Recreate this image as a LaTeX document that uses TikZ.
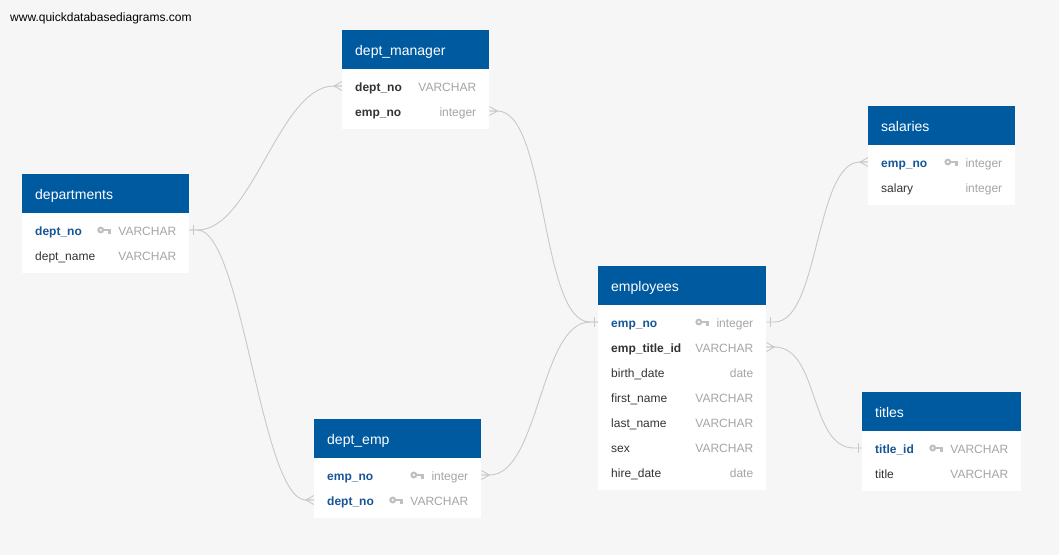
\documentclass[tikz,border=0pt]{standalone}
\usepackage{fontspec}
\setmainfont{Liberation Sans}
\usetikzlibrary{positioning,calc}

\definecolor{canvas}{RGB}{246,246,246}
\definecolor{hdrblue}{RGB}{0,90,160}
\definecolor{pkblue}{RGB}{22,86,150}
\definecolor{coldark}{RGB}{51,51,51}
\definecolor{typegrey}{RGB}{165,165,165}
\definecolor{keygrey}{RGB}{192,192,192}
\definecolor{linkgrey}{RGB}{200,200,200}

\begin{document}
\begin{tikzpicture}[x=1pt, y=-1pt,
    tblbody/.style={fill=white, draw=none, inner sep=0pt, anchor=north west},
    tblhead/.style={fill=hdrblue, draw=none, inner sep=0pt, anchor=north west,
      minimum height=39pt},
    tbltitle/.style={text=white, inner sep=0pt, anchor=base west,
      font=\fontsize{14}{16}\selectfont},
    colname/.style={inner sep=0pt, anchor=base west,
      font=\fontsize{12}{14}\fontseries{#1}\selectfont},
    coltype/.style={inner sep=0pt, anchor=base east, text=typegrey,
      font=\fontsize{12}{14}\selectfont},
    link/.style={draw=linkgrey, line width=0.9pt},
    pkkey/.pic={
      \fill[keygrey] (0,0) circle (3.5);
      \fill[white] (0,0) circle (1.2);
      \fill[keygrey] (2.5,-1.3) rectangle (10.5,1.3);
      \fill[keygrey] (7.5,1.3) rectangle (9.8,3.6);
    },
    crowfoot/.pic={\draw[link] (0,-4.5) -- (8,0) -- (0,4.5) (0,0) -- (8,0);},
    onetick/.pic={\draw[link] (4,-5) -- (4,5);}]

  \useasboundingbox (0,0) rectangle (1059,555);
  \fill[canvas] (0,0) rectangle (1059,555);

  \node[inner sep=0pt, anchor=base west, font=\fontsize{12}{14}\selectfont] (site)
    at (10,21) {www.quickdatabasediagrams.com};

  % departments
  \node[tblbody, minimum width=167pt, minimum height=99pt] (departments) at (22,174) {};
  \node[tblhead, minimum width=167pt] at (departments.north west) {};
  \node[tbltitle] at ($(departments.north west)+(13,25.5)$) {departments};
  \foreach \nm/\tp/\cl/\sr [count=\i] in {dept\_no/VARCHAR/pkblue/b,
      dept\_name/VARCHAR/coldark/m} {
    \coordinate (departments-\i-l) at ($(departments.north west)+(0,{31+25*\i})$);
    \coordinate (departments-\i-r) at ($(departments.north east)+(0,{31+25*\i})$);
    \node[colname=\sr, text=\cl] (departments-\i-n) at ($(departments-\i-l)+(13,5.2)$) {\nm};
    \node[coltype] (departments-\i-t) at ($(departments-\i-r)+(-13,5.2)$) {\tp};
  }

  % dept_manager
  \node[tblbody, minimum width=147pt, minimum height=99pt] (deptmanager) at (342,30) {};
  \node[tblhead, minimum width=147pt] at (deptmanager.north west) {};
  \node[tbltitle] at ($(deptmanager.north west)+(13,25.5)$) {dept\_manager};
  \foreach \nm/\tp/\cl/\sr [count=\i] in {dept\_no/VARCHAR/coldark/b,
      emp\_no/integer/coldark/b} {
    \coordinate (deptmanager-\i-l) at ($(deptmanager.north west)+(0,{31+25*\i})$);
    \coordinate (deptmanager-\i-r) at ($(deptmanager.north east)+(0,{31+25*\i})$);
    \node[colname=\sr, text=\cl] (deptmanager-\i-n) at ($(deptmanager-\i-l)+(13,5.2)$) {\nm};
    \node[coltype] (deptmanager-\i-t) at ($(deptmanager-\i-r)+(-13,5.2)$) {\tp};
  }

  % salaries
  \node[tblbody, minimum width=147pt, minimum height=99pt] (salaries) at (868,106) {};
  \node[tblhead, minimum width=147pt] at (salaries.north west) {};
  \node[tbltitle] at ($(salaries.north west)+(13,25.5)$) {salaries};
  \foreach \nm/\tp/\cl/\sr [count=\i] in {emp\_no/integer/pkblue/b,
      salary/integer/coldark/m} {
    \coordinate (salaries-\i-l) at ($(salaries.north west)+(0,{31+25*\i})$);
    \coordinate (salaries-\i-r) at ($(salaries.north east)+(0,{31+25*\i})$);
    \node[colname=\sr, text=\cl] (salaries-\i-n) at ($(salaries-\i-l)+(13,5.2)$) {\nm};
    \node[coltype] (salaries-\i-t) at ($(salaries-\i-r)+(-13,5.2)$) {\tp};
  }

  % employees
  \node[tblbody, minimum width=168pt, minimum height=224pt] (employees) at (598,266) {};
  \node[tblhead, minimum width=168pt] at (employees.north west) {};
  \node[tbltitle] at ($(employees.north west)+(13,25.5)$) {employees};
  \foreach \nm/\tp/\cl/\sr [count=\i] in {emp\_no/integer/pkblue/b,
      emp\_title\_id/VARCHAR/coldark/b, birth\_date/date/coldark/m,
      first\_name/VARCHAR/coldark/m, last\_name/VARCHAR/coldark/m,
      sex/VARCHAR/coldark/m, hire\_date/date/coldark/m} {
    \coordinate (employees-\i-l) at ($(employees.north west)+(0,{31+25*\i})$);
    \coordinate (employees-\i-r) at ($(employees.north east)+(0,{31+25*\i})$);
    \node[colname=\sr, text=\cl] (employees-\i-n) at ($(employees-\i-l)+(13,5.2)$) {\nm};
    \node[coltype] (employees-\i-t) at ($(employees-\i-r)+(-13,5.2)$) {\tp};
  }

  % dept_emp
  \node[tblbody, minimum width=167pt, minimum height=99pt] (deptemp) at (314,419) {};
  \node[tblhead, minimum width=167pt] at (deptemp.north west) {};
  \node[tbltitle] at ($(deptemp.north west)+(13,25.5)$) {dept\_emp};
  \foreach \nm/\tp/\cl/\sr [count=\i] in {emp\_no/integer/pkblue/b,
      dept\_no/VARCHAR/pkblue/b} {
    \coordinate (deptemp-\i-l) at ($(deptemp.north west)+(0,{31+25*\i})$);
    \coordinate (deptemp-\i-r) at ($(deptemp.north east)+(0,{31+25*\i})$);
    \node[colname=\sr, text=\cl] (deptemp-\i-n) at ($(deptemp-\i-l)+(13,5.2)$) {\nm};
    \node[coltype] (deptemp-\i-t) at ($(deptemp-\i-r)+(-13,5.2)$) {\tp};
  }

  % titles
  \node[tblbody, minimum width=159pt, minimum height=99pt] (titles) at (862,392) {};
  \node[tblhead, minimum width=159pt] at (titles.north west) {};
  \node[tbltitle] at ($(titles.north west)+(13,25.5)$) {titles};
  \foreach \nm/\tp/\cl/\sr [count=\i] in {title\_id/VARCHAR/pkblue/b,
      title/VARCHAR/coldark/m} {
    \coordinate (titles-\i-l) at ($(titles.north west)+(0,{31+25*\i})$);
    \coordinate (titles-\i-r) at ($(titles.north east)+(0,{31+25*\i})$);
    \node[colname=\sr, text=\cl] (titles-\i-n) at ($(titles-\i-l)+(13,5.2)$) {\nm};
    \node[coltype] (titles-\i-t) at ($(titles-\i-r)+(-13,5.2)$) {\tp};
  }

  % primary keys
  \foreach \k in {departments-1, salaries-1, employees-1, deptemp-1, deptemp-2, titles-1}
    \pic at ($(\k-t.base west)+(-17.5,-5.2)$) {pkkey};

  % relations
  \draw[link] (departments-1-r) -- ++(8,0)
    .. controls +(55,0) and +(-55,0) .. ($(deptmanager-1-l)+(-8,0)$) -- (deptmanager-1-l);
  \draw[link] (departments-1-r) -- ++(8,0)
    .. controls +(45,0) and +(-45,0) .. ($(deptemp-2-l)+(-8,0)$) -- (deptemp-2-l);
  \draw[link] (deptmanager-2-r) -- ++(8,0)
    .. controls +(50,0) and +(-50,0) .. ($(employees-1-l)+(-8,0)$) -- (employees-1-l);
  \draw[link] (deptemp-1-r) -- ++(8,0)
    .. controls +(50,0) and +(-50,0) .. ($(employees-1-l)+(-8,0)$) -- (employees-1-l);
  \draw[link] (employees-1-r) -- ++(8,0)
    .. controls +(45,0) and +(-45,0) .. ($(salaries-1-l)+(-8,0)$) -- (salaries-1-l);
  \draw[link] (employees-2-r) -- ++(8,0)
    .. controls +(45,0) and +(-45,0) .. ($(titles-1-l)+(-8,0)$) -- (titles-1-l);

  % end marks
  \pic at (departments-1-r) {onetick};
  \pic[rotate=180] at (deptmanager-1-l) {crowfoot};
  \pic[rotate=180] at (deptemp-2-l) {crowfoot};
  \pic at (deptmanager-2-r) {crowfoot};
  \pic at (deptemp-1-r) {crowfoot};
  \pic[rotate=180] at (employees-1-l) {onetick};
  \pic at (employees-1-r) {onetick};
  \pic[rotate=180] at (salaries-1-l) {crowfoot};
  \pic at (employees-2-r) {crowfoot};
  \pic[rotate=180] at (titles-1-l) {onetick};
\end{tikzpicture}
\end{document}
